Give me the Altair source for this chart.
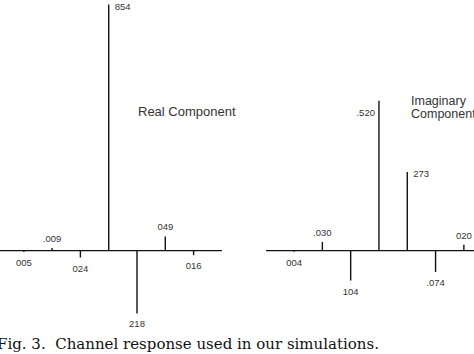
import altair as alt
import pandas as pd

taps = [0, 1, 2, 3, 4, 5, 6]
real_values = [-0.005, 0.009, -0.024, 0.854, -0.218, 0.049, -0.016]
imag_values = [-0.004, 0.030, -0.104, 0.520, 0.273, -0.074, 0.020]
real_labels = ["005", ".009", "024", "854", "218", "049", "016"]
imag_labels = ["004", ".030", "104", ".520", "273", ".074", "020"]
panel_titles = ["Real Component", "Imaginary", "Component"]
caption = ["Fig. 3.\u00a0\u00a0Channel response used in our simulations."]

rows = []
for t, v, l in zip(taps, real_values, real_labels):
    rows.append({"panel": "real", "tap": t, "value": v, "label": l})
for t, v, l in zip(taps, imag_values, imag_labels):
    rows.append({"panel": "imag", "tap": t, "value": v, "label": l})
df = pd.DataFrame(rows)

W, H = 474, 354
IMAG_OFFSET = 9.55  # gap between the two panels, in tap units
XDOM = [-0.841, 15.908]
YDOM = [-0.359, 0.870]

xs = alt.Scale(domain=XDOM, nice=False, zero=False)
ys = alt.Scale(domain=YDOM, nice=False, zero=False)

base = alt.Chart(df).transform_calculate(
    pos=f"datum.tap + (datum.panel == 'imag' ? {IMAG_OFFSET} : 0)",
    zero="0",
)
x = alt.X("pos:Q", scale=xs, axis=None)
y = alt.Y("value:Q", scale=ys, axis=None)

stems = base.mark_rule(color="#111", strokeWidth=1.4).encode(x=x, y=y, y2="zero:Q")

axis_df = pd.DataFrame({"x0": [XDOM[0], 8.56], "x1": [7.0, XDOM[1]], "y0": [0.0, 0.0]})
axes = alt.Chart(axis_df).mark_rule(color="#111", strokeWidth=1.3).encode(
    x=alt.X("x0:Q", scale=xs, axis=None), x2="x1:Q", y=alt.Y("y0:Q", scale=ys, axis=None)
)

lab_font = dict(font="Liberation Sans", fontSize=9.5, color="#333")
above = base.transform_filter("datum.value > 0 && datum.value < 0.25").mark_text(
    dy=-9, baseline="middle", align="center", **lab_font
).encode(x=x, y=y, text="label:N")
below = base.transform_filter("datum.value < 0").mark_text(
    dy=11, baseline="middle", align="center", **lab_font
).encode(x=x, y=y, text="label:N")
big_right = base.transform_filter("datum.label == '854' || datum.label == '273'").mark_text(
    dx=6, dy=2, baseline="middle", align="left", **lab_font
).encode(x=x, y=y, text="label:N")
big_left = base.transform_filter("datum.label == '.520'").mark_text(
    dx=-4, dy=12, baseline="middle", align="right", **lab_font
).encode(x=x, y=y, text="label:N")

title_font = dict(font="Liberation Sans", fontSize=13, color="#333", align="left", baseline="middle")
t1 = alt.Chart(pd.DataFrame({"t": [panel_titles[0]]})).mark_text(**title_font).encode(
    x=alt.value(138), y=alt.value(112), text="t:N"
)
side_font = dict(title_font, fontSize=12.5)
t2 = alt.Chart(pd.DataFrame({"t": [panel_titles[1]]})).mark_text(**side_font).encode(
    x=alt.value(411), y=alt.value(101), text="t:N"
)
t3 = alt.Chart(pd.DataFrame({"t": [panel_titles[2]]})).mark_text(**side_font).encode(
    x=alt.value(411), y=alt.value(114), text="t:N"
)
cap = alt.Chart(pd.DataFrame({"t": caption})).mark_text(
    font="DejaVu Serif", fontSize=15, color="#111", align="left", baseline="alphabetic"
).encode(x=alt.value(-3), y=alt.value(349), text="t:N")

chart = alt.layer(axes, stems, above, below, big_right, big_left, t1, t2, t3, cap).properties(
    width=W, height=H, padding=0, autosize=alt.AutoSizeParams(type="none"), background="white"
).configure_view(stroke=None)

chart.save("out.html", embed_options={"renderer": "svg", "actions": False})
